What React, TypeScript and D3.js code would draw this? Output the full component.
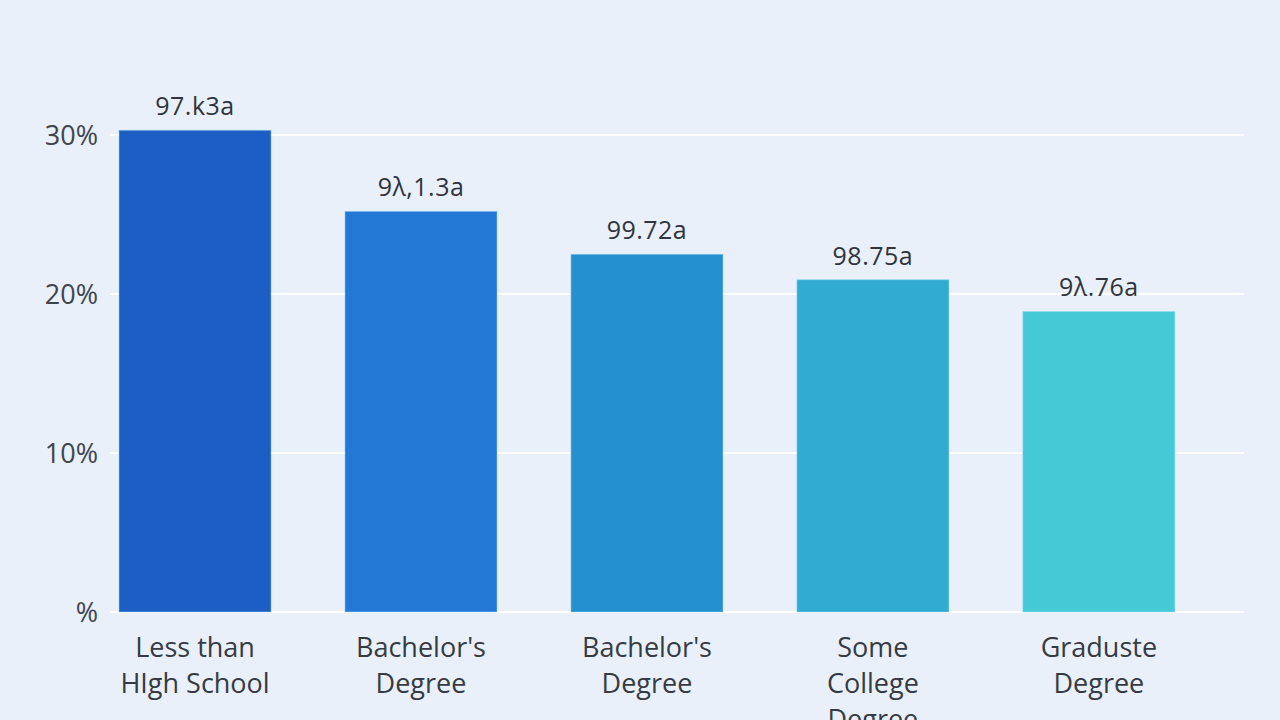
import { useRef, useLayoutEffect } from "react";
import * as d3 from "d3";

const categories = [
  ["Less than", "HIgh School"],
  ["Bachelor's", "Degree"],
  ["Bachelor's", "Degree"],
  ["Some", "College", "Degree"],
  ["Graduste", "Degree"],
];
const values = [30.3, 25.2, 22.5, 20.9, 18.9];
const valueLabels = ["97.k3a", "9λ,1.3a", "99.72a", "98.75a", "9λ.76a"];
const barColors = ["#1d5ec4", "#2378d5", "#2590d0", "#31abd2", "#44c9d6"];
const yTicks = [0, 10, 20, 30];
const yTickLabels = ["%", "10%", "20%", "30%"];

const W = 1280;
const H = 720;
const FONT = "'Open Sans', 'Noto Sans', sans-serif";

export default function App() {
  const svgRef = useRef<SVGSVGElement | null>(null);

  useLayoutEffect(() => {
    if (!svgRef.current) return;
    document.body.style.margin = "0";

    const svg = d3.select(svgRef.current);
    svg.selectAll("*").remove();

    const x = d3
      .scaleBand<number>()
      .domain(d3.range(values.length))
      .range([96.4, 1197.5])
      .paddingInner(0.327)
      .paddingOuter(0.1);
    const y = d3.scaleLinear().domain([0, 30]).range([612, 135]);

    svg.append("rect").attr("width", W).attr("height", H).attr("fill", "#e9f0f9");

    // gridlines
    svg
      .append("g")
      .selectAll("line")
      .data(yTicks)
      .enter()
      .append("line")
      .attr("x1", 110)
      .attr("x2", 1244)
      .attr("y1", (d) => y(d))
      .attr("y2", (d) => y(d))
      .attr("stroke", "#ffffff")
      .attr("stroke-width", 2);

    // y tick labels
    svg
      .append("g")
      .selectAll("text")
      .data(yTicks)
      .enter()
      .append("text")
      .attr("x", 98)
      .attr("y", (d) => y(d) + 3)
      .attr("text-anchor", "end")
      .attr("dominant-baseline", "middle")
      .attr("font-family", FONT)
      .attr("font-size", "27px")
      .attr("fill", "#40454d")
      .text((_, i) => yTickLabels[i]);

    // bars
    svg
      .append("g")
      .selectAll("rect")
      .data(values)
      .enter()
      .append("rect")
      .attr("x", (_, i) => x(i)!)
      .attr("y", (d) => y(d))
      .attr("width", x.bandwidth())
      .attr("height", (d) => y(0) - y(d))
      .attr("fill", (_, i) => barColors[i])
      .attr("stroke", "#9fdcf5")
      .attr("stroke-opacity", 0.5)
      .attr("stroke-width", 1);

    // value labels
    svg
      .append("g")
      .selectAll("text")
      .data(values)
      .enter()
      .append("text")
      .attr("x", (_, i) => x(i)! + x.bandwidth() / 2)
      .attr("y", (d) => y(d) - 15)
      .attr("text-anchor", "middle")
      .attr("font-family", FONT)
      .attr("font-size", "25px")
      .attr("letter-spacing", "0.5px")
      .attr("fill", "#30353d")
      .text((_, i) => valueLabels[i]);

    // category labels
    const cat = svg
      .append("g")
      .selectAll("text")
      .data(categories)
      .enter()
      .append("text")
      .attr("x", (_, i) => x(i)! + x.bandwidth() / 2)
      .attr("y", 657)
      .attr("text-anchor", "middle")
      .attr("font-family", FONT)
      .attr("font-size", "27px")
      .attr("fill", "#363b43");
    cat
      .selectAll("tspan")
      .data((d) => d)
      .enter()
      .append("tspan")
      .attr("x", function () {
        return (this as SVGTSpanElement).parentElement!.getAttribute("x");
      })
      .attr("dy", (_, j) => (j === 0 ? 0 : 36))
      .text((d) => d);
  }, []);

  return <svg ref={svgRef} width={W} height={H} style={{ display: "block" }} />;
}
